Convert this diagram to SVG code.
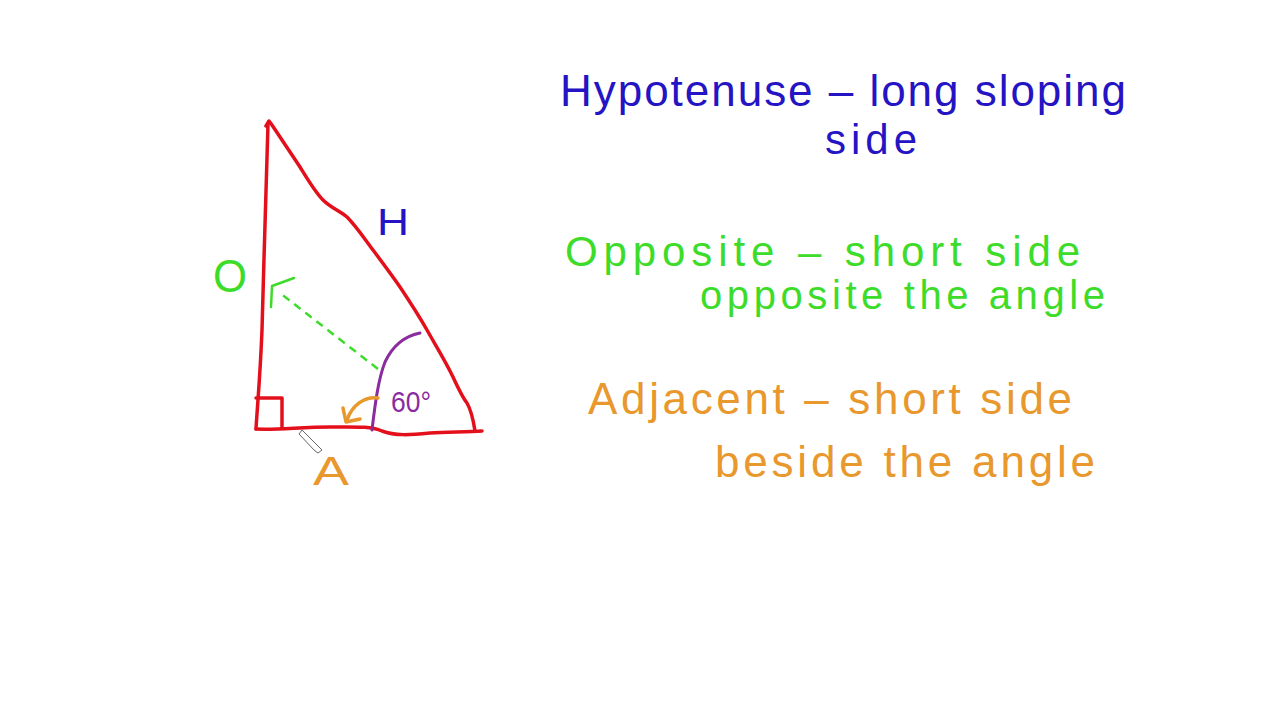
<svg xmlns="http://www.w3.org/2000/svg" width="1280" height="720" viewBox="0 0 1280 720">
<style>
.hw{font-family:"Liberation Sans","DejaVu Sans",sans-serif;font-weight:normal}
.blue{fill:#2414c4}
.green{fill:#3ddc2a}
.orange{fill:#e8982c}
.purple{fill:#8a2c9e}
.red{fill:none;stroke:#e3101c;stroke-width:3.5;stroke-linecap:round;stroke-linejoin:round}
</style>
<rect width="1280" height="720" fill="#ffffff"/>
<g id="triangle">
<path class="red" d="M266,126 L269,121 L272,125 C282,140 292,155 300,167 C308,180 315,192 323,200 C331,208 340,211 347,217 C356,226 364,238 373,250 C382,262 391,274 400,287 C410,302 419,316 427,330 C436,346 446,362 453,377 C459,390 463,398 467,403 C471,410 473,418 475,431"/>
<path class="red" d="M268,124 C266,180 264,260 262,330 C260,380 257,410 256,429"/>
<path class="red" d="M256,429 C280,430 300,427 330,427 C355,427 370,426 382,431 C395,436 410,435 430,433 C450,432 470,432 482,431"/>
<path class="red" d="M256,398 L282,398 L282,428"/>
</g>
<g id="angle">
<path d="M372,430 C375,405 378,380 385,362 C393,345 405,336 420,333" fill="none" stroke="#8a2c9e" stroke-width="3" stroke-linecap="round"/>
<text class="hw purple" x="391" y="412" font-size="30" textLength="40" lengthAdjust="spacingAndGlyphs">60°</text>
</g>
<g id="connectors">
<path d="M378,369 L280,293" fill="none" stroke="#3ddc2a" stroke-width="2.5" stroke-dasharray="8,6"/>
<path d="M294,278 L272,286 L271,307" fill="none" stroke="#3ddc2a" stroke-width="2.5" stroke-linecap="round" stroke-linejoin="round"/>
<path d="M378,398 C365,396 352,405 347,420" fill="none" stroke="#e8982c" stroke-width="3.5" stroke-linecap="round"/>
<path d="M343,408 L346,422 L360,419" fill="none" stroke="#e8982c" stroke-width="3.5" stroke-linecap="round" stroke-linejoin="round"/>
</g>
<g id="labels">
<text class="hw green" x="213" y="292" font-size="46" textLength="34" lengthAdjust="spacingAndGlyphs">O</text>
<text class="hw blue" x="377" y="235" font-size="36" textLength="32" lengthAdjust="spacingAndGlyphs">H</text>
<text class="hw orange" x="313" y="485" font-size="40" textLength="36" lengthAdjust="spacingAndGlyphs">A</text>
</g>
<g id="cursor">
<path d="M302,430 L318,446 L322,450 L318,453 L314,450 L299,434 Z" fill="#ffffff" stroke="#666666" stroke-width="1"/>
</g>
<g id="hypotenuse-text">
<text class="hw blue" x="560" y="106" font-size="44" textLength="566" lengthAdjust="spacing">Hypotenuse  –  long  sloping</text>
<text class="hw blue" x="825" y="154" font-size="42" textLength="92" lengthAdjust="spacing">side</text>
</g>
<g id="opposite-text">
<text class="hw green" x="565" y="266" font-size="42" textLength="515" lengthAdjust="spacing">Opposite –  short side</text>
<text class="hw green" x="700" y="309" font-size="40" textLength="405" lengthAdjust="spacing">opposite  the  angle</text>
</g>
<g id="adjacent-text">
<text class="hw orange" x="588" y="414" font-size="44" textLength="484" lengthAdjust="spacing">Adjacent –  short side</text>
<text class="hw orange" x="715" y="477" font-size="44" textLength="380" lengthAdjust="spacing">beside  the  angle</text>
</g>
</svg>
